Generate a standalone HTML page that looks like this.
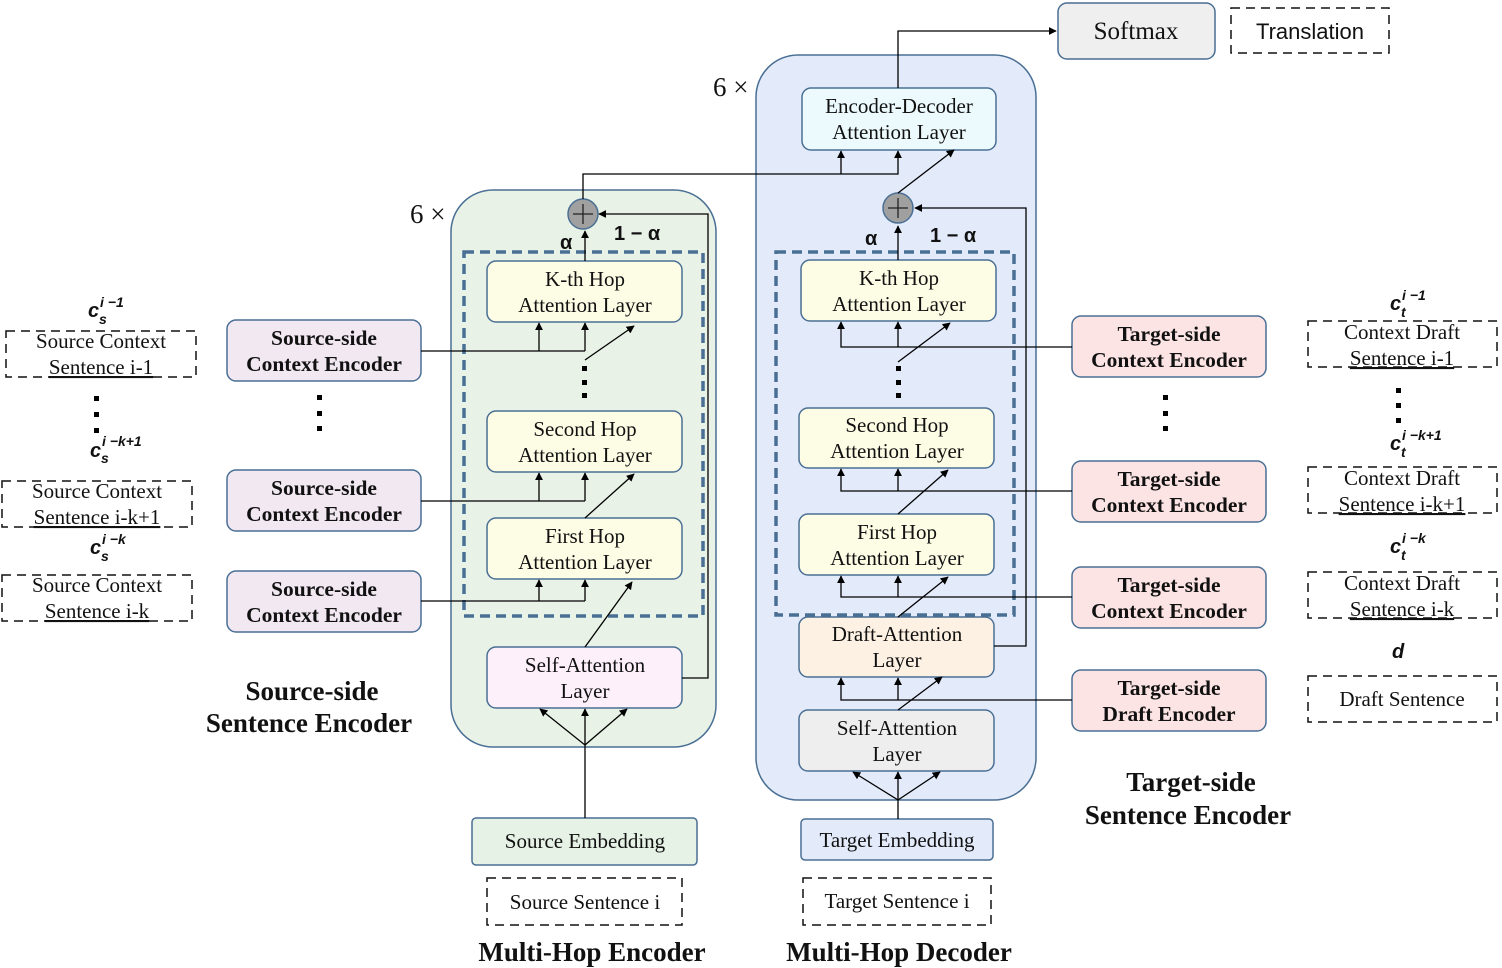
<!DOCTYPE html>
<html><head><meta charset="utf-8"><style>
html,body{margin:0;padding:0;background:#fff;width:1502px;height:968px;overflow:hidden}
text{font-family:"Liberation Serif",serif;fill:#111}
.s{font-family:"Liberation Sans",sans-serif}
</style></head><body>
<svg width="1502" height="968" viewBox="0 0 1502 968" xmlns="http://www.w3.org/2000/svg">
<defs>
<marker id="a" viewBox="0 0 10 10" refX="9" refY="5" markerWidth="8" markerHeight="8" markerUnits="userSpaceOnUse" orient="auto"><path d="M0,0L10,5L0,10z" fill="#000"/></marker>
</defs>
<rect x="451" y="190" width="265" height="557" rx="42" fill="#e8f2e6" stroke="#4a6f94" stroke-width="1.5"/>
<rect x="756" y="55" width="280" height="745" rx="42" fill="#e3ebfb" stroke="#4a6f94" stroke-width="1.5"/>
<rect x="464" y="252" width="239" height="364" fill="none" stroke="#4a6f94" stroke-width="3.5" stroke-dasharray="10,6"/>
<rect x="776" y="252" width="238" height="363" fill="none" stroke="#4a6f94" stroke-width="3.5" stroke-dasharray="10,6"/>
<g stroke="#4a6f94" stroke-width="1.5">
<rect x="487" y="261" width="195" height="61" rx="9" fill="#fdfde6"/>
<rect x="487" y="411" width="195" height="61" rx="9" fill="#fdfde6"/>
<rect x="487" y="518" width="195" height="61" rx="9" fill="#fdfde6"/>
<rect x="487" y="647" width="195" height="61" rx="9" fill="#fdf0fb"/>
<rect x="472" y="818" width="225" height="47" rx="4" fill="#e6f2e6"/>
<rect x="802" y="88" width="194" height="62" rx="9" fill="#ecfafd"/>
<rect x="801" y="260" width="195" height="61" rx="9" fill="#fdfde6"/>
<rect x="799" y="408" width="195" height="60" rx="9" fill="#fdfde6"/>
<rect x="799" y="514" width="195" height="61" rx="9" fill="#fdfde6"/>
<rect x="799" y="617" width="195" height="60" rx="9" fill="#fdf1e3"/>
<rect x="799" y="710" width="195" height="61" rx="9" fill="#eeeeee"/>
<rect x="801" y="819" width="192" height="41" rx="4" fill="#e3ebfb"/>
<rect x="1058" y="3" width="157" height="56" rx="9" fill="#efefef"/>
<rect x="227" y="320" width="194" height="61" rx="9" fill="#f1e8f2"/>
<rect x="227" y="470" width="194" height="61" rx="9" fill="#f1e8f2"/>
<rect x="227" y="571" width="194" height="61" rx="9" fill="#f1e8f2"/>
<rect x="1072" y="316" width="194" height="61" rx="9" fill="#fce4e4"/>
<rect x="1072" y="461" width="194" height="61" rx="9" fill="#fce4e4"/>
<rect x="1072" y="567" width="194" height="61" rx="9" fill="#fce4e4"/>
<rect x="1072" y="670" width="194" height="61" rx="9" fill="#fce4e4"/>
</g>
<g fill="none" stroke="#111" stroke-width="1.5" stroke-dasharray="9,6">
<rect x="487" y="878" width="195" height="47"/>
<rect x="803" y="878" width="188" height="47"/>
<rect x="1231" y="8" width="158" height="45"/>
<rect x="6" y="331" width="190" height="46"/>
<rect x="2" y="481" width="190" height="46"/>
<rect x="2" y="575" width="190" height="46"/>
<rect x="1308" y="321" width="189" height="46"/>
<rect x="1308" y="467" width="189" height="46"/>
<rect x="1308" y="572" width="189" height="46"/>
<rect x="1308" y="676" width="189" height="46"/>
</g>
<g fill="#a0a0a0" stroke="#4a6f94" stroke-width="1.5"><circle cx="583" cy="214" r="15"/><circle cx="898" cy="208" r="15"/></g>
<g stroke="#222" stroke-width="1.3"><path d="M573,214h20M583,204v20M888,208h20M898,198v20"/></g>
<g fill="none" stroke="#000" stroke-width="1.3">
<path d="M421,351H585"/><path d="M421,501H585"/><path d="M421,601H585"/>
</g>
<g fill="none" stroke="#000" stroke-width="1.3" marker-end="url(#a)">
<path d="M539,351V323"/><path d="M585,351V323"/><path d="M585,360L634,326"/>
<path d="M539,501V473"/><path d="M585,501V473"/><path d="M585,518L634,474"/>
<path d="M539,601V580"/><path d="M585,601V580"/><path d="M585,647L632,582"/>
<path d="M682,678H708V214H599"/>
<path d="M585,261V231"/>
<path d="M583,199V174H898V151"/><path d="M841,174V151"/><path d="M898,193L954,150"/>
<path d="M898,88V31H1056"/>
<path d="M585,818V745L540,709"/><path d="M585,745V709"/><path d="M585,745L627,709"/>
<path d="M1072,347H841V322"/><path d="M898,347V322"/><path d="M898,362L950,323"/>
<path d="M1072,491H841V469"/><path d="M898,491V469"/><path d="M898,514L948,470"/>
<path d="M1072,597H841V576"/><path d="M898,597V576"/><path d="M898,617L948,577"/>
<path d="M1072,700H841V678"/><path d="M898,700V678"/><path d="M898,710L942,677"/>
<path d="M994,646H1026V208H915"/>
<path d="M898,260V226"/>
<path d="M898,819V800L853,772"/><path d="M898,800V772"/><path d="M898,800L940,772"/>
</g>
<g fill="#000">
<rect x="582" y="366" width="5" height="5"/><rect x="582" y="380" width="5" height="5"/><rect x="582" y="393" width="5" height="5"/>
<rect x="896" y="366" width="5" height="5"/><rect x="896" y="380" width="5" height="5"/><rect x="896" y="393" width="5" height="5"/>
<rect x="317" y="395" width="5" height="5"/><rect x="317" y="411" width="5" height="5"/><rect x="317" y="426" width="5" height="5"/>
<rect x="1163" y="395" width="5" height="5"/><rect x="1163" y="411" width="5" height="5"/><rect x="1163" y="426" width="5" height="5"/>
<rect x="94" y="396" width="5" height="5"/><rect x="94" y="412" width="5" height="5"/><rect x="94" y="428" width="5" height="5"/>
<rect x="1396" y="388" width="5" height="5"/><rect x="1396" y="403" width="5" height="5"/><rect x="1396" y="418" width="5" height="5"/>
</g>
<g font-size="21" text-anchor="middle">
<text x="585" y="286">K-th Hop</text><text x="585" y="312">Attention Layer</text>
<text x="585" y="436">Second Hop</text><text x="585" y="462">Attention Layer</text>
<text x="585" y="543">First Hop</text><text x="585" y="569">Attention Layer</text>
<text x="585" y="672">Self-Attention</text><text x="585" y="698">Layer</text>
<text x="585" y="848">Source Embedding</text>
<text x="585" y="909">Source Sentence i</text>
<text x="899" y="113">Encoder-Decoder</text><text x="899" y="139">Attention Layer</text>
<text x="899" y="285">K-th Hop</text><text x="899" y="311">Attention Layer</text>
<text x="897" y="432">Second Hop</text><text x="897" y="458">Attention Layer</text>
<text x="897" y="539">First Hop</text><text x="897" y="565">Attention Layer</text>
<text x="897" y="641">Draft-Attention</text><text x="897" y="667">Layer</text>
<text x="897" y="735">Self-Attention</text><text x="897" y="761">Layer</text>
<text x="897" y="847">Target Embedding</text>
<text x="897" y="908">Target Sentence i</text>
<text x="101" y="348">Source Context</text><text x="101" y="374" text-decoration="underline">Sentence i-1</text>
<text x="97" y="498">Source Context</text><text x="97" y="524" text-decoration="underline">Sentence i-k+1</text>
<text x="97" y="592">Source Context</text><text x="97" y="618" text-decoration="underline">Sentence i-k</text>
<text x="1402" y="339">Context Draft</text><text x="1402" y="365" text-decoration="underline">Sentence i-1</text>
<text x="1402" y="485">Context Draft</text><text x="1402" y="511" text-decoration="underline">Sentence i-k+1</text>
<text x="1402" y="590">Context Draft</text><text x="1402" y="616" text-decoration="underline">Sentence i-k</text>
<text x="1402" y="706">Draft Sentence</text>
</g>
<g font-size="21.5" font-weight="bold" text-anchor="middle">
<text x="324" y="345">Source-side</text><text x="324" y="371">Context Encoder</text>
<text x="324" y="495">Source-side</text><text x="324" y="521">Context Encoder</text>
<text x="324" y="596">Source-side</text><text x="324" y="622">Context Encoder</text>
<text x="1169" y="341">Target-side</text><text x="1169" y="367">Context Encoder</text>
<text x="1169" y="486">Target-side</text><text x="1169" y="512">Context Encoder</text>
<text x="1169" y="592">Target-side</text><text x="1169" y="618">Context Encoder</text>
<text x="1169" y="695">Target-side</text><text x="1169" y="721">Draft Encoder</text>
</g>
<g font-size="27" font-weight="bold" text-anchor="middle">
<text x="312" y="700">Source-side</text><text x="309" y="732">Sentence Encoder</text>
<text x="1191" y="791">Target-side</text><text x="1188" y="824">Sentence Encoder</text>
<text x="592" y="961">Multi-Hop Encoder</text><text x="899" y="961">Multi-Hop Decoder</text>
</g>
<text x="1136" y="39" font-size="25" text-anchor="middle">Softmax</text>
<text x="1310" y="39" font-size="22" text-anchor="middle" class="s">Translation</text>
<text x="410" y="223" font-size="27">6 ×</text>
<text x="713" y="96" font-size="27">6 ×</text>
<g class="s" font-weight="bold" font-size="20">
<text x="560" y="249" class="s">α</text><text x="614" y="240" class="s">1 − α</text>
<text x="865" y="245" class="s">α</text><text x="930" y="242" class="s">1 − α</text>
</g>
<g class="s" font-weight="bold" font-style="italic">
<text x="88" y="317" font-size="20" class="s">c</text><text x="100" y="307" font-size="14" class="s">i −1</text><text x="99" y="324" font-size="14" class="s">s</text>
<text x="90" y="457" font-size="20" class="s">c</text><text x="102" y="446" font-size="14" class="s">i −k+1</text><text x="101" y="463" font-size="14" class="s">s</text>
<text x="90" y="554" font-size="20" class="s">c</text><text x="102" y="544" font-size="14" class="s">i −k</text><text x="101" y="561" font-size="14" class="s">s</text>
<text x="1390" y="310" font-size="20" class="s">c</text><text x="1402" y="300" font-size="14" class="s">i −1</text><text x="1401" y="317" font-size="14" class="s">t</text>
<text x="1390" y="450" font-size="20" class="s">c</text><text x="1402" y="440" font-size="14" class="s">i −k+1</text><text x="1401" y="457" font-size="14" class="s">t</text>
<text x="1390" y="553" font-size="20" class="s">c</text><text x="1402" y="543" font-size="14" class="s">i −k</text><text x="1401" y="560" font-size="14" class="s">t</text>
<text x="1392" y="658" font-size="20" class="s">d</text>
</g>
</svg>
</body></html>
